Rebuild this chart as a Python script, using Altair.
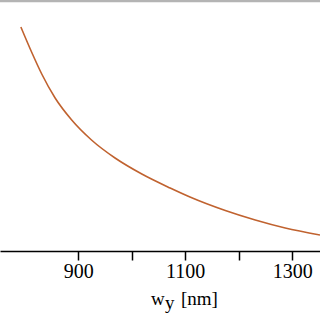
import altair as alt
import pandas as pd

# values
w_y = [793, 813, 832, 857, 888, 925, 969, 1019, 1072, 1109, 1175, 1231, 1287, 1352]
signal = [224, 199, 177, 153, 131, 111, 93, 77, 63, 54, 40.5, 31, 23, 16]
tick_values = [900, 1000, 1100, 1200, 1300]
labeled_ticks = [900, 1100, 1300]

df = pd.DataFrame({"w": w_y, "s": signal})
one = pd.DataFrame({"k": [0]})

FONT = "Liberation Serif"

label_expr = "indexof([" + ",".join(str(v) for v in labeled_ticks) + "], datum.value) >= 0 ? datum.label : ''"

line = alt.Chart(df).mark_line(color="#c0622f", strokeWidth=1.6, interpolate="monotone").encode(
    x=alt.X("w:Q", scale=alt.Scale(domain=[754, 1352], nice=False, zero=False),
            axis=alt.Axis(values=tick_values, title=None, grid=False, format="d",
                          labelExpr=label_expr, labelFont=FONT, labelFontSize=20,
                          labelColor="black", labelPadding=1, tickSize=9, tickColor="black",
                          tickWidth=1.5, domainColor="black", domainWidth=1.6)),
    y=alt.Y("s:Q", scale=alt.Scale(domain=[0, 251], nice=False), axis=None),
)

top_rule = alt.Chart(one).mark_rule(color="#b4b4b4", strokeWidth=2.5).encode(
    x=alt.value(0), x2=alt.value(320), y=alt.value(1)
)

t_w = alt.Chart(one).mark_text(text="w", font=FONT, fontSize=19, align="left",
                               baseline="alphabetic", color="black").encode(
    x=alt.value(151), y=alt.value(305))
t_y = alt.Chart(one).mark_text(text="y", font=FONT, fontSize=19, align="left",
                               baseline="alphabetic", color="black").encode(
    x=alt.value(165), y=alt.value(309))
t_nm = alt.Chart(one).mark_text(text="[nm]", font=FONT, fontSize=19, align="left",
                                baseline="alphabetic", color="black").encode(
    x=alt.value(181), y=alt.value(305))

chart = alt.layer(line, top_rule, t_w, t_y, t_nm).properties(
    width=320, height=251,
    padding={"left": 0, "top": 0, "right": 0, "bottom": 69},
    autosize=alt.AutoSizeParams(type="none"),
    background="white",
).configure_view(stroke=None)

chart.save("out.html", embed_options={"renderer": "svg", "actions": False})
